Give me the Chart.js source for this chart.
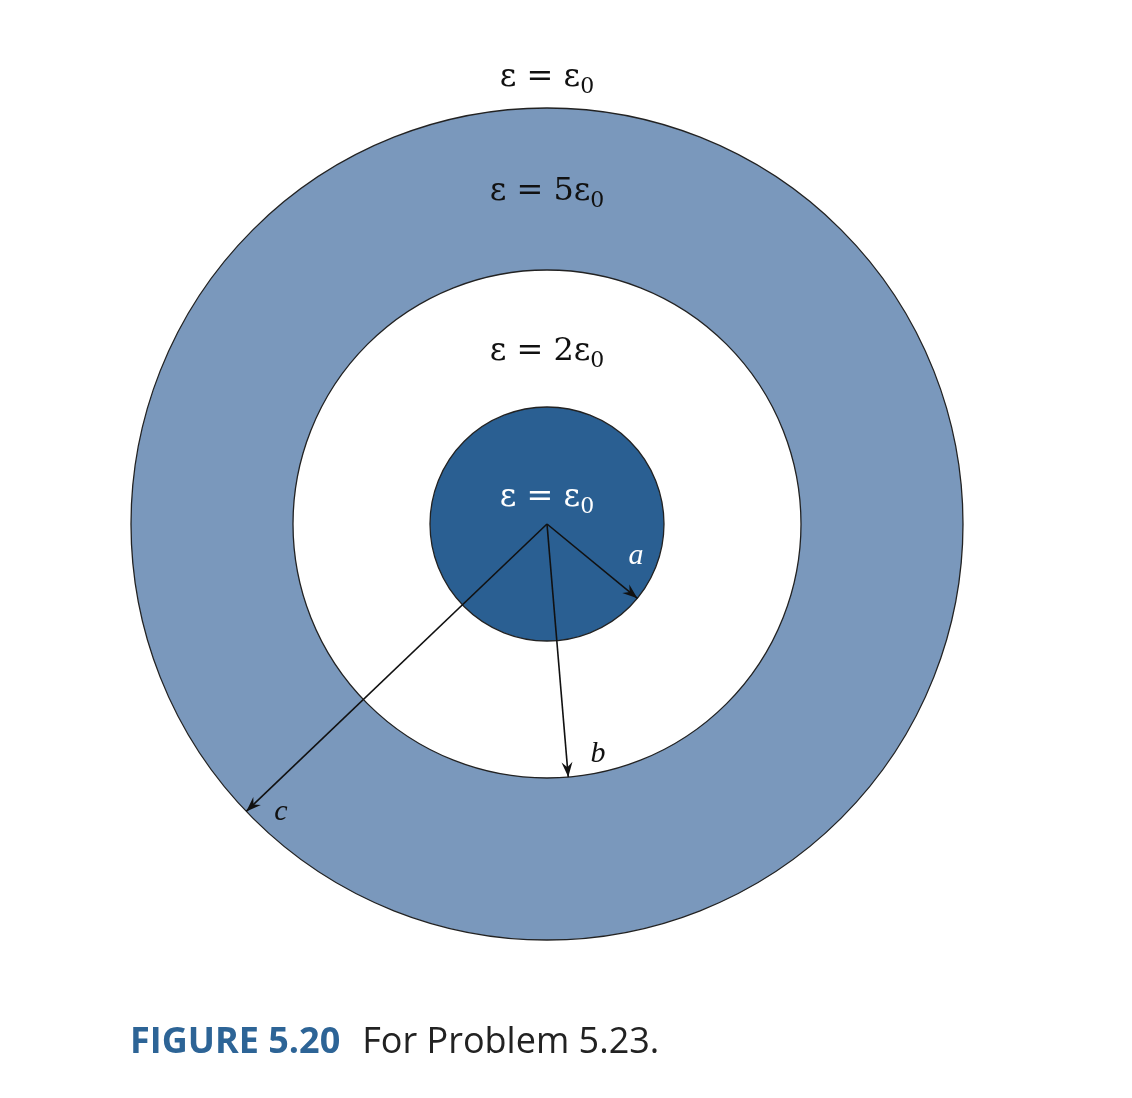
<!DOCTYPE html>
<html>
<head>
<meta charset="utf-8">
<script src="https://cdn.jsdelivr.net/npm/chart.js@4"></script>
<style>
  body { margin: 0; background: #fff; }
  canvas { display: block; }
</style>
</head>
<body>
<canvas id="fig" width="1132" height="1098"></canvas>
<script>
// geometry of the figure, in picture units
const center = [547, 524];
const radii = { c: 416, b: 254, a: 117 };         // outer, middle, inner circle
const arrowAngles = { a: -39.4, b: -85.2, c: -136.3 }; // degrees, y up
const regionLabels = ['ε = ε', 'ε = 5ε', 'ε = 2ε', 'ε = ε'];
const regionLabelY = [78, 192, 352, 498];
const caption = ['FIGURE 5.20', 'For Problem 5.23.'];

function tip(key) {
    const t = arrowAngles[key] * Math.PI / 180;
    return { x: center[0] + radii[key] * Math.cos(t), y: center[1] - radii[key] * Math.sin(t) };
}

const arrowSets = ['a', 'b', 'c'].map(k => ({
    type: 'line',
    data: [{ x: center[0], y: center[1] }, tip(k)],
    borderColor: '#111',
    borderWidth: 1.6,
    pointRadius: 0,
    fill: false
}));

// draws circles before datasets, labels and arrowheads after
const diagram = {
    id: 'diagram',
    beforeDatasetsDraw(chart) {
        const ctx = chart.ctx, xs = chart.scales.x, ys = chart.scales.y;
        const cx = xs.getPixelForValue(center[0]), cy = ys.getPixelForValue(center[1]);
        const circle = (r, fill) => {
            const pr = xs.getPixelForValue(center[0] + r) - cx;
            ctx.beginPath();
            ctx.arc(cx, cy, pr, 0, Math.PI * 2);
            ctx.fillStyle = fill;
            ctx.fill();
            ctx.lineWidth = 1.3;
            ctx.strokeStyle = '#222';
            ctx.stroke();
        };
        ctx.save();
        circle(radii.c, '#7a98bc');
        circle(radii.b, '#ffffff');
        circle(radii.a, '#2a5f92');
        ctx.restore();
    },
    afterDatasetsDraw(chart) {
        const ctx = chart.ctx, xs = chart.scales.x, ys = chart.scales.y;
        ctx.save();
        // arrowheads
        ['a', 'b', 'c'].forEach(k => {
            const p = tip(k);
            const px = xs.getPixelForValue(p.x), py = ys.getPixelForValue(p.y);
            const ang = Math.atan2(py - ys.getPixelForValue(center[1]), px - xs.getPixelForValue(center[0]));
            ctx.beginPath();
            ctx.moveTo(px, py);
            ctx.lineTo(px - 16 * Math.cos(ang - 0.35), py - 16 * Math.sin(ang - 0.35));
            ctx.lineTo(px - 10 * Math.cos(ang), py - 10 * Math.sin(ang));
            ctx.lineTo(px - 16 * Math.cos(ang + 0.35), py - 16 * Math.sin(ang + 0.35));
            ctx.closePath();
            ctx.fillStyle = '#111';
            ctx.fill();
        });
        // region labels with subscript 0
        regionLabels.forEach((t, i) => {
            const col = i === 3 ? '#ffffff' : '#111';
            ctx.font = '32px "DejaVu Serif", "Liberation Serif", serif';
            const w = ctx.measureText(t).width;
            ctx.font = '22px "DejaVu Serif", "Liberation Serif", serif';
            const ws = ctx.measureText('0').width;
            const x0 = xs.getPixelForValue(center[0]) - (w + ws) / 2;
            const y = ys.getPixelForValue(regionLabelY[i]);
            ctx.fillStyle = col;
            ctx.textBaseline = 'middle';
            ctx.textAlign = 'left';
            ctx.font = '32px "DejaVu Serif", "Liberation Serif", serif';
            ctx.fillText(t, x0, y);
            ctx.font = '22px "DejaVu Serif", "Liberation Serif", serif';
            ctx.fillText('0', x0 + w, y + 9);
        });
        // radius letters
        ctx.font = 'italic 30px "Liberation Serif", "DejaVu Serif", serif';
        ctx.textAlign = 'center';
        ctx.fillStyle = '#ffffff';
        ctx.fillText('a', xs.getPixelForValue(636), ys.getPixelForValue(556));
        ctx.fillStyle = '#111';
        ctx.fillText('b', xs.getPixelForValue(598), ys.getPixelForValue(754));
        ctx.fillText('c', xs.getPixelForValue(281), ys.getPixelForValue(812));
        // caption
        ctx.textAlign = 'left';
        ctx.font = 'bold 36px "Open Sans", "Noto Sans", sans-serif';
        ctx.fillStyle = '#2d6496';
        const cw = ctx.measureText(caption[0]).width;
        ctx.fillText(caption[0], 130, 1043);
        ctx.font = '36px "Open Sans", "Noto Sans", sans-serif';
        ctx.fillStyle = '#222';
        ctx.fillText(caption[1], 130 + cw + 22, 1043);
        ctx.restore();
    }
};

new Chart(document.getElementById('fig'), {
    type: 'scatter',
    data: { datasets: arrowSets },
    options: {
        responsive: false,
        animation: false,
        devicePixelRatio: 1,
        layout: { padding: 0 },
        plugins: { legend: { display: false }, tooltip: { enabled: false } },
        scales: {
            x: { type: 'linear', min: 0, max: 1132, display: false },
            y: { type: 'linear', min: 0, max: 1098, reverse: true, display: false }
        }
    },
    plugins: [diagram]
});
</script>
</body>
</html>
